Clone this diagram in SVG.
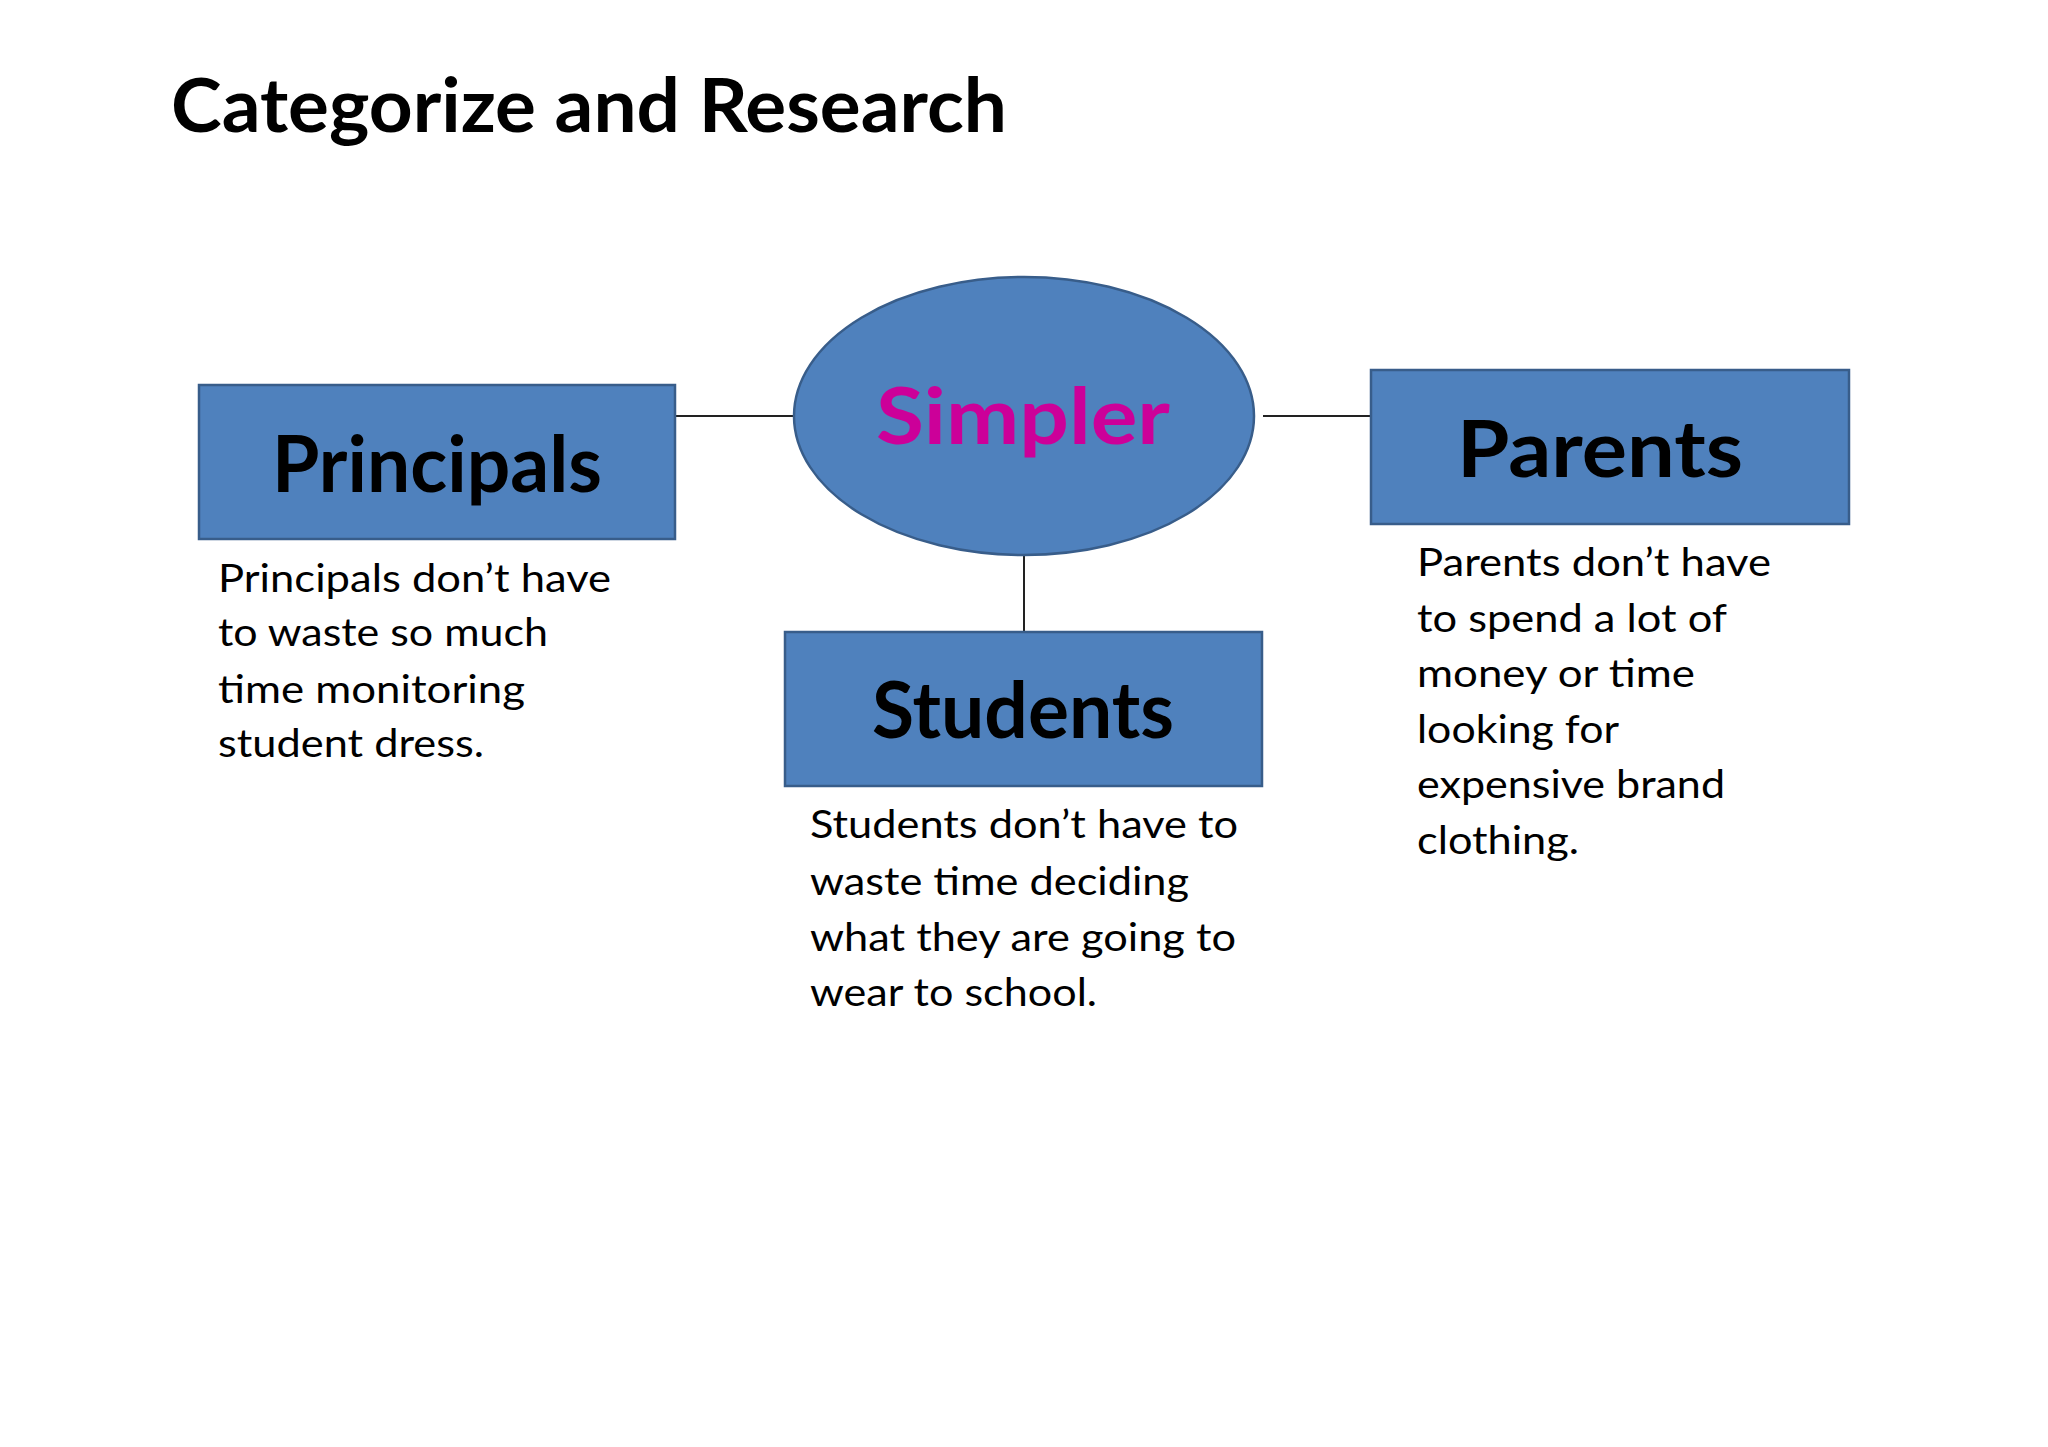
<svg xmlns="http://www.w3.org/2000/svg" width="2048" height="1447" viewBox="0 0 2048 1447">
<style>
.box{fill:#4F81BD;stroke:#385D8A;stroke-width:2.5}
.lbl{font-family:Lato,"Liberation Sans",sans-serif;font-weight:bold;font-size:79px;fill:#000;text-anchor:middle}
.desc{font-family:Lato,"Liberation Sans",sans-serif;font-size:39px;fill:#000}
.title{font-family:Lato,"Liberation Sans",sans-serif;font-weight:bold;font-size:74px;fill:#000}
.conn{stroke:#222;stroke-width:2;fill:none}
</style>
<rect width="2048" height="1447" fill="#fff"/>
<text class="title" x="171" y="132" textLength="836" lengthAdjust="spacingAndGlyphs">Categorize and Research</text>
<g id="connectors">
<line class="conn" x1="675" y1="416" x2="794" y2="416"/>
<line class="conn" x1="1263" y1="416" x2="1371" y2="416"/>
<line class="conn" x1="1024" y1="555" x2="1024" y2="632"/>
</g>
<g id="simpler">
<ellipse class="box" cx="1024" cy="416" rx="230" ry="139"/>
<text class="lbl" x="1023" y="444" style="fill:#CC0099" textLength="294" lengthAdjust="spacingAndGlyphs">Simpler</text>
</g>
<g id="principals">
<rect class="box" x="199" y="385" width="476" height="154"/>
<text class="lbl" x="437" y="492" textLength="330" lengthAdjust="spacingAndGlyphs">Principals</text>
<text class="desc" x="218" y="592" textLength="393" lengthAdjust="spacingAndGlyphs">Principals don’t have</text>
<text class="desc" x="218" y="646" textLength="330" lengthAdjust="spacingAndGlyphs">to waste so much</text>
<text class="desc" x="218" y="703" textLength="307" lengthAdjust="spacingAndGlyphs">time monitoring</text>
<text class="desc" x="218" y="757" textLength="266" lengthAdjust="spacingAndGlyphs">student dress.</text>
</g>
<g id="parents">
<rect class="box" x="1371" y="370" width="478" height="154"/>
<text class="lbl" x="1600" y="477" textLength="286" lengthAdjust="spacingAndGlyphs">Parents</text>
<text class="desc" x="1417" y="576" textLength="354" lengthAdjust="spacingAndGlyphs">Parents don’t have</text>
<text class="desc" x="1417" y="632" textLength="310" lengthAdjust="spacingAndGlyphs">to spend a lot of</text>
<text class="desc" x="1417" y="687" textLength="278" lengthAdjust="spacingAndGlyphs">money or time</text>
<text class="desc" x="1417" y="743" textLength="202" lengthAdjust="spacingAndGlyphs">looking for</text>
<text class="desc" x="1417" y="798" textLength="308" lengthAdjust="spacingAndGlyphs">expensive brand</text>
<text class="desc" x="1417" y="854" textLength="162" lengthAdjust="spacingAndGlyphs">clothing.</text>
</g>
<g id="students">
<rect class="box" x="785" y="632" width="477" height="154"/>
<text class="lbl" x="1023" y="738" textLength="302" lengthAdjust="spacingAndGlyphs">Students</text>
<text class="desc" x="810" y="838" textLength="428" lengthAdjust="spacingAndGlyphs">Students don’t have to</text>
<text class="desc" x="810" y="895" textLength="379" lengthAdjust="spacingAndGlyphs">waste time deciding</text>
<text class="desc" x="810" y="951" textLength="426" lengthAdjust="spacingAndGlyphs">what they are going to</text>
<text class="desc" x="810" y="1006" textLength="287" lengthAdjust="spacingAndGlyphs">wear to school.</text>
</g>
</svg>
